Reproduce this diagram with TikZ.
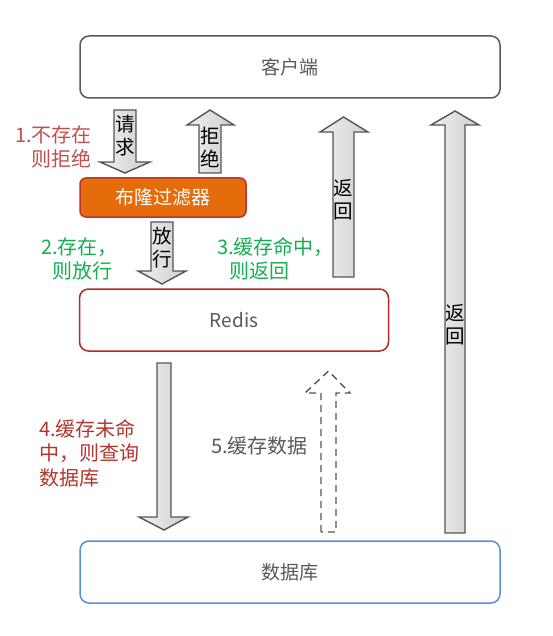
\documentclass[tikz,border=0pt]{standalone}
\usepackage{fontspec}
\setmainfont{Noto Sans CJK SC}
\usetikzlibrary{shapes.arrows}
\definecolor{boxgray}{HTML}{595959}
\definecolor{redisred}{HTML}{B22B2B}
\definecolor{dbblue}{HTML}{5B8FD6}
\definecolor{bloomfill}{HTML}{E46C0A}
\definecolor{bloomline}{HTML}{B8352E}
\definecolor{lblred}{HTML}{C0504D}
\definecolor{lbldark}{HTML}{B0362E}
\definecolor{lblgreen}{HTML}{12B050}
\definecolor{arrline}{HTML}{555555}
\newcommand\blkarrow[8]{%
  \draw[#1] (#2,#4) -- (#2,#5) -- (#6,#5) -- ({(#2+#3)/2},#8) -- (#7,#5) -- (#3,#5) -- (#3,#4) -- cycle;}
\begin{document}
\begin{tikzpicture}[x=1pt,y=-1pt,
  box/.style={draw, line width=1.5pt, rounded corners=9pt, fill=white, font=\fontsize{19}{22}\selectfont, text=boxgray},
  barr/.style={draw=arrline, line width=1.4pt, line join=miter, left color=gray!12, right color=gray!38},
  darr/.style={draw=arrline, line width=1.4pt, dashed, dash pattern=on 7pt off 5pt},
  atxt/.style={align=center, font=\fontsize{19.5}{23}\selectfont, text=black, inner sep=0pt},
  lbl/.style={font=\fontsize{20}{24.5}\selectfont, inner sep=0pt}]
\useasboundingbox (0,0) rectangle (552,636);
% boxes
\node[box, draw=boxgray, minimum width=420pt, minimum height=62pt] (client) at (290,67) {客户端};
\node[box, draw=bloomline, fill=bloomfill, text=white, rounded corners=6pt, minimum width=166pt, minimum height=39pt] (bloom) at (163,197.5) {布隆过滤器};
\node[box, draw=redisred, minimum width=309pt, minimum height=62pt] (redis) at (234,320) {Redis};
\node[box, draw=dbblue, minimum width=420pt, minimum height=62pt] (db) at (290,572) {数据库};
% block arrows
\blkarrow{barr}{114}{136}{110}{162}{100}{150}{173}
\blkarrow{barr}{199}{221}{173}{125}{187}{234}{110}
\blkarrow{barr}{151}{173}{222}{271}{138}{186}{284}
\blkarrow{barr}{333}{354}{277}{132}{320}{368}{117}
\blkarrow{barr}{445}{465}{533}{125}{431}{479}{111}
\blkarrow{barr}{157}{171}{363}{517}{139}{188}{530}
\blkarrow{darr}{321}{336}{532}{393}{305}{350}{371}
% arrow texts
\node[atxt] (t1) at (125,136) {请\\求};
\node[atxt] (t2) at (210,147) {拒\\绝};
\node[atxt] (t3) at (162,248) {放\\行};
\node[atxt] (t4) at (343.5,200) {返\\回};
\node[atxt] (t5) at (455,325) {返\\回};
% labels
\node[lbl, text=lblred, align=right, anchor=east] (l1) at (92,147) {1.不存在\\则拒绝};
\node[lbl, text=lblgreen, align=left, anchor=west] (l2) at (41,259) {2.存在，\\\hspace*{11pt}则放行};
\node[lbl, text=lblgreen, align=left, anchor=west] (l3) at (217,259) {3.缓存命中，\\\hspace*{12pt}则返回};
\node[lbl, text=lbldark, align=left, anchor=west] (l4) at (39,453) {4.缓存未命\\中，则查询\\数据库};
\node[lbl, text=boxgray, anchor=west] (l5) at (211,446) {5.缓存数据};
\end{tikzpicture}
\end{document}
